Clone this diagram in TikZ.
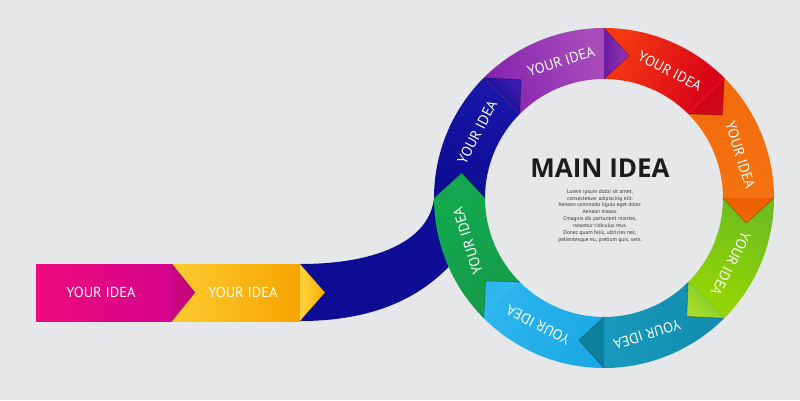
\documentclass[tikz,border=0pt]{standalone}
\usepackage{fontspec}
\setmainfont{PT Sans}
\newfontfamily\mainfont{Open Sans}
\definecolor{bg}{HTML}{E6E7E9}
\definecolor{pinkA}{HTML}{EE0A7C}
\definecolor{pinkB}{HTML}{D4048C}
\definecolor{pinkT}{HTML}{C8047E}
\definecolor{yelA}{HTML}{FDCB2F}
\definecolor{yelB}{HTML}{F6A400}
\definecolor{yelTA}{HTML}{FFD440}
\definecolor{yelTB}{HTML}{F5B000}
\definecolor{navyA}{HTML}{0C0C94}
\definecolor{navyB}{HTML}{1818AA}
\definecolor{navyTA}{HTML}{08087E}
\definecolor{navyTB}{HTML}{3A1CB4}
\definecolor{purA}{HTML}{8424AE}
\definecolor{purB}{HTML}{A84CBA}
\definecolor{purTA}{HTML}{6E1AA2}
\definecolor{purTB}{HTML}{9436B6}
\definecolor{redA}{HTML}{F53A12}
\definecolor{redB}{HTML}{D60018}
\definecolor{redT}{HTML}{CC0018}
\definecolor{oraA}{HTML}{F26A0A}
\definecolor{oraB}{HTML}{F57210}
\definecolor{oraT}{HTML}{EA6000}
\definecolor{limA}{HTML}{6DBE1E}
\definecolor{limB}{HTML}{96D600}
\definecolor{limTA}{HTML}{78C818}
\definecolor{limTB}{HTML}{A8DE30}
\definecolor{teaA}{HTML}{118CAC}
\definecolor{teaB}{HTML}{1898BC}
\definecolor{teaT}{HTML}{0C8098}
\definecolor{bluA}{HTML}{1BA8E4}
\definecolor{bluB}{HTML}{2DB6EE}
\definecolor{bluT}{HTML}{34BCF2}
\definecolor{greA}{HTML}{169A48}
\definecolor{greB}{HTML}{12A84E}
\definecolor{greT}{HTML}{16A652}
\definecolor{maintxt}{HTML}{1C1C1C}
\definecolor{lorem}{HTML}{333333}
% ring segment: start angle, end angle, start colour, end colour
\newcommand\ringseg[4]{%
  \pgfmathsetmacro\segmid{(#1+#2)/2}%
  \path[top color=#3,bottom color=#4,shading angle=\segmid]
    (#1:170) arc[start angle=#1,end angle=#2,radius=170]
    -- (#2:119) arc[start angle=#2,end angle=#1,radius=119] -- cycle;}
% arrow tip at end angle: angle, base colour, apex colour
\newcommand\ringtip[3]{%
  \pgfmathsetmacro\tipang{#1-10}%
  \path[top color=#2,bottom color=#3,shading angle=#1]
    (#1:170) -- (\tipang:144.5) -- (#1:119) -- cycle;
  \draw[tipshadow] (#1:170) -- (\tipang:144.5) -- (#1:119);}
\begin{document}
\begin{tikzpicture}[x=1pt,y=1pt,
  idea/.style={text=white,font=\fontsize{14.5}{16}\selectfont,inner sep=0pt},
  tipshadow/.style={black,opacity=0.22,line width=0.9pt,line join=round}]
\useasboundingbox (0,0) rectangle (800,400);
\fill[bg] (0,0) rectangle (800,400);
% navy tail
\path[left color=navyA,right color=navyA!90!navyB]
  (300,136) .. controls (382,136) and (430,162) .. (434,202)
  -- (478,202) -- (455,140)
  .. controls (420,100) and (370,79) .. (300,79) -- cycle;
\begin{scope}[shift={(604,202)}]
  \ringseg{180}{135}{navyA}{navyB}
\end{scope}
% straight arrows
\path[left color=yelA,right color=yelB] (172,79) rectangle (300,136);
\path[left color=pinkA,right color=pinkB] (36,79) rectangle (172,136);
\path[fill=pinkT] (172,136) -- (195,107.5) -- (172,79) -- cycle;
\draw[tipshadow,opacity=0.12] (172,136) -- (195,107.5) -- (172,79);
\path[left color=yelTA,right color=yelTB] (300,136) -- (325,107.5) -- (300,79) -- cycle;
\draw[tipshadow,opacity=0.12] (300,136) -- (325,107.5) -- (300,79);
\node[idea] (p1) at (101,107.5) {YOUR IDEA};
\node[idea] (p2) at (243,107.5) {YOUR IDEA};
\begin{scope}[shift={(604,202)}]
  \ringseg{135}{90}{purA}{purB}
  \ringseg{90}{45}{redA}{redB}
  \ringseg{45}{0}{oraA}{oraB}
  \ringseg{0}{-45}{limA}{limB}
  \ringseg{-45}{-90}{teaA}{teaB}
  \ringseg{-90}{-135}{bluA}{bluB}
  \ringseg{-135}{-180}{greA}{greB}
  \ringtip{135}{navyTA}{navyTB}
  \ringtip{90}{purTA}{purTB}
  \ringtip{45}{redT}{redT!85!redA}
  \ringtip{0}{oraT}{oraA}
  \ringtip{-45}{limTA}{limTB}
  \ringtip{-90}{teaT}{teaT!85!teaB}
  \ringtip{-135}{bluT}{bluB}
  \ringtip{-180}{greT}{greB}
  \node[idea,rotate=17.5]   (s1) at (107.5:143) {YOUR IDEA};
  \node[idea,rotate=-27.5]  (s2) at (62.5:143)  {YOUR IDEA};
  \node[idea,rotate=-72.5]  (s3) at (17.5:143)  {YOUR IDEA};
  \node[idea,rotate=-117.5] (s4) at (-27.5:143) {YOUR IDEA};
  \node[idea,rotate=-162.5] (s5) at (-72.5:143) {YOUR IDEA};
  \node[idea,rotate=152.5]  (s6) at (-117.5:143) {YOUR IDEA};
  \node[idea,rotate=107.5]  (s7) at (-162.5:143) {YOUR IDEA};
  \node[idea,rotate=62.5]   (s8) at (152.5:143) {YOUR IDEA};
\end{scope}
\node[text=maintxt,font=\mainfont\bfseries\fontsize{26}{30}\selectfont,inner sep=0pt] (main) at (600,232) {MAIN IDEA};
\node[text=lorem,font=\fontsize{5.5}{6.95}\selectfont,align=center,inner sep=0pt] (lorem) at (600,184)
  {Lorem ipsum dolor sit amet,\\ consectetuer adipiscing elit.\\ Aenean commodo ligula eget dolor.\\ Aenean massa.\\ Cmagnis dis parturient montes,\\ nascetur ridiculus mus.\\ Donec quam felis, ultricies nec,\\ pellentesque eu, pretium quis, sem.};
\end{tikzpicture}
\end{document}
